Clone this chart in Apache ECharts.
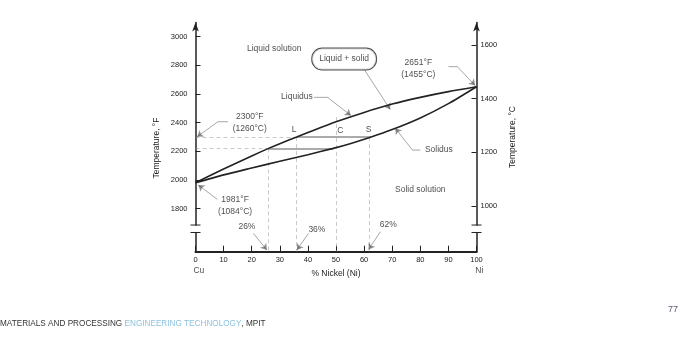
<!DOCTYPE html>
<html>
<head>
<meta charset="utf-8">
<script src="https://cdn.jsdelivr.net/npm/echarts@6/dist/echarts.min.js"></script>
<style>html,body{margin:0;padding:0;background:#fff}#c{width:700px;height:340px}</style>
</head>
<body>
<div id="c"></div>
<script>
// ---- data (x = % Nickel, T = °F) ----
const xTicks = [0, 10, 20, 30, 40, 50, 60, 70, 80, 90, 100];
const fTicks = [1800, 2000, 2200, 2400, 2600, 2800, 3000];
const cTicks = [1000, 1200, 1400, 1600];
const liquidusX = [0, 10, 20, 26, 30, 36, 40, 50, 60, 70, 80, 90, 100];
const liquidusT = [1981, 2077, 2168, 2221, 2254, 2300, 2331, 2406, 2472, 2530, 2577, 2617, 2651];
const solidusX = [0, 10, 20, 30, 40, 49, 55, 62, 70, 80, 90, 100];
const solidusT = [1981, 2036, 2084, 2131, 2177, 2221, 2254, 2297, 2352, 2433, 2533, 2651];
const tieLines = [[[36, 2300], [62.4, 2300]], [[26, 2221], [49, 2221]]];
const guideLines = [
  [[0, 2300], [36, 2300]], [[0, 2221], [26, 2221]],
  [[26, 2221], [26, 1500]], [[36, 2300], [36, 1500]],
  [[50, 2440], [50, 1500]], [[62, 2300], [62, 1500]]
];
const arrowPaths = [
  [[59.8, 2779], [69.3, 2493]],
  [[90.0, 2791], [93.2, 2791], [99.5, 2660]],
  [[42.2, 2577], [47.0, 2577], [55.3, 2450]],
  [[11.6, 2407], [8.0, 2407], [0.6, 2302]],
  [[80.0, 2209], [77.2, 2209], [71.1, 2362]],
  [[7.8, 1865], [1.0, 1965]],
  [[20.6, 1628], [25.4, 1512]],
  [[40.2, 1628], [36.1, 1512]],
  [[65.8, 1639], [61.6, 1516]]
];
const annotText = ['Liquid solution', '2651°F\n(1455°C)', 'Liquidus', '2300°F\n(1260°C)', 'L', 'C', 'S',
  'Solidus', 'Solid solution', '1981°F\n(1084°C)', '26%', '36%', '62%', 'Cu', 'Ni'];
const annotX = [28.0, 79.3, 36.1, 19.3, 35.1, 51.5, 61.6, 86.6, 80.0, 14.1, 18.3, 43.2, 68.6, 1.2, 101.0];
const annotT = [2914, 2775, 2581, 2401, 2349, 2342, 2349, 2209, 1930, 1822, 1674, 1656, 1686, 1365, 1365];
const boxText = ['Liquid + solid'];
const boxX = [52.9];
const boxT = [2844];
const breakT = [1686, 1634];

const FONT = 'Liberation Sans';
const INK = '#222';
const chart = echarts.init(document.getElementById('c'));
const zip = (xs, ys) => xs.map((x, i) => [x, ys[i]]);
const leaders = arrowPaths.filter(p => p.length > 2).map(p => ({ coords: p.slice(0, -1) }));
const heads = arrowPaths.map(p => ({ coords: p.slice(-2) }));
const plain = v => String(v);

chart.setOption({
  backgroundColor: '#fff',
  animation: false,
  grid: { left: 195.5, right: 223.5, top: 22.4, bottom: 88.3 },
  xAxis: {
    type: 'value', min: 0, max: 100, interval: 10,
    name: '% Nickel (Ni)', nameLocation: 'middle', nameGap: 17,
    nameTextStyle: { fontFamily: FONT, fontSize: 8.5, color: INK },
    axisLine: { lineStyle: { color: INK, width: 2 } },
    axisTick: { inside: true, length: 6, lineStyle: { color: INK, width: 1 } },
    axisLabel: { margin: 4, fontFamily: FONT, fontSize: 7.5, color: INK, formatter: plain },
    splitLine: { show: false }
  },
  yAxis: [{
    type: 'value', min: 1500, max: 3100,
    name: 'Temperature, °F', nameLocation: 'middle', nameGap: 34, nameRotate: 90,
    nameTextStyle: { fontFamily: FONT, fontSize: 8.5, color: INK, padding: [0, 22, 0, 0] },
    axisLine: { show: true, symbol: ['none', 'arrow'], symbolSize: [5, 9], lineStyle: { color: INK, width: 1.5 } },
    axisTick: { inside: true, length: 5, customValues: fTicks, lineStyle: { color: INK } },
    axisLabel: { customValues: fTicks, margin: 8, fontFamily: FONT, fontSize: 7.5, color: INK, formatter: plain },
    splitLine: { show: false }
  }, {
    type: 'value', min: 829.7, max: 1684.2, position: 'right',
    name: 'Temperature, °C', nameLocation: 'middle', nameGap: 32, nameRotate: 90,
    nameTextStyle: { fontFamily: FONT, fontSize: 8.5, color: INK },
    axisLine: { show: true, symbol: ['none', 'arrow'], symbolSize: [5, 9], lineStyle: { color: INK, width: 1.5 } },
    axisTick: { inside: true, length: 5, customValues: cTicks, lineStyle: { color: INK } },
    axisLabel: { customValues: cTicks, margin: 4, fontFamily: FONT, fontSize: 7.5, color: INK, formatter: plain },
    splitLine: { show: false }
  }],
  series: [
    { type: 'line', name: 'Liquidus', data: zip(liquidusX, liquidusT), showSymbol: false, smooth: 0.25,
      lineStyle: { color: INK, width: 1.6 }, z: 5 },
    { type: 'line', name: 'Solidus', data: zip(solidusX, solidusT), showSymbol: false, smooth: 0.25,
      lineStyle: { color: INK, width: 1.6 }, z: 5 },
    { type: 'lines', coordinateSystem: 'cartesian2d', z: 4,
      data: guideLines.map(c => ({ coords: c })),
      lineStyle: { color: '#8a8a8a', width: 0.9, type: [4, 3] } },
    { type: 'lines', coordinateSystem: 'cartesian2d', z: 5,
      data: tieLines.map(c => ({ coords: c })),
      lineStyle: { color: INK, width: 1.6 } },
    { type: 'lines', coordinateSystem: 'cartesian2d', polyline: true, z: 6,
      data: leaders, lineStyle: { color: INK, width: 0.8 } },
    { type: 'lines', coordinateSystem: 'cartesian2d', z: 6,
      symbol: ['none', 'arrow'], symbolSize: 6,
      data: heads, lineStyle: { color: INK, width: 0.8 } },
    { type: 'scatter', symbolSize: 0, clip: false, z: 7,
      data: zip(annotX, annotT).map((p, i) => ({ value: p, name: annotText[i] })),
      label: { show: true, position: 'inside', formatter: p => p.name,
        fontFamily: FONT, fontSize: 8.5, color: INK, lineHeight: 12 } },
    { type: 'scatter', symbolSize: 0, clip: false, z: 7,
      data: zip(boxX, boxT).map((p, i) => ({ value: p, name: boxText[i] })),
      label: { show: true, position: 'inside', formatter: p => p.name,
        fontFamily: FONT, fontSize: 8.5, color: INK, backgroundColor: '#fff',
        borderColor: INK, borderWidth: 1, borderRadius: 10, padding: [6, 7] } }
  ]
});

// axis break marks, positioned through the axes' own scales
const xl = chart.convertToPixel({ xAxisIndex: 0 }, 0);
const xr = chart.convertToPixel({ xAxisIndex: 0 }, 100);
const y1 = chart.convertToPixel({ yAxisIndex: 0 }, breakT[0]);
const y2 = chart.convertToPixel({ yAxisIndex: 0 }, breakT[1]);
const brk = [];
[xl, xr].forEach(x => {
  brk.push({ type: 'rect', shape: { x: x - 3, y: y1 + 0.5, width: 6, height: y2 - y1 - 1 }, style: { fill: '#fff' }, z: 100 });
  brk.push({ type: 'line', shape: { x1: x - 5, y1: y1, x2: x + 5, y2: y1 }, style: { stroke: INK, lineWidth: 1 }, z: 101 });
  brk.push({ type: 'line', shape: { x1: x - 5, y1: y2, x2: x + 5, y2: y2 }, style: { stroke: INK, lineWidth: 1 }, z: 101 });
});
brk.push({ type: 'text', left: 0, top: 320, z: 100,
  style: { text: 'MATERIALS AND PROCESSING {b|ENGINEERING TECHNOLOGY}, MPIT', fill: '#333',
    font: '8.2px "Liberation Sans"', rich: { b: { fill: '#8dc3df', font: '8.2px "Liberation Sans"' } } } });
brk.push({ type: 'text', left: 668, top: 305, z: 100,
  style: { text: '77', fill: '#5a6070', font: '9px "Liberation Sans"' } });
chart.setOption({ graphic: brk });
</script>
</body>
</html>
